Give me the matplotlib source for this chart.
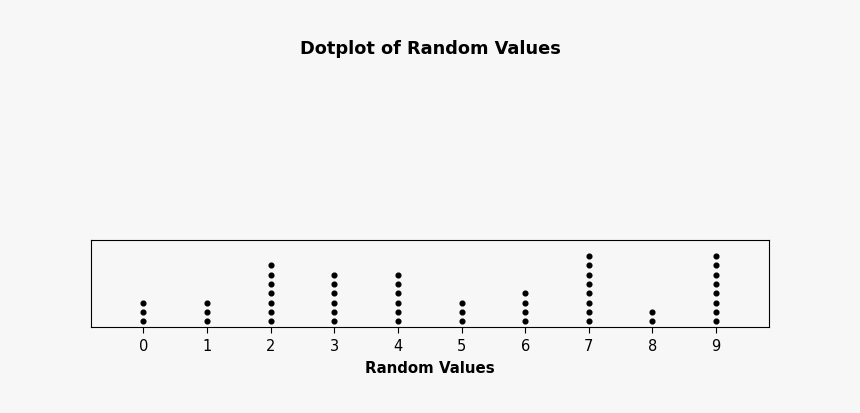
import matplotlib.pyplot as plt

valeurs = [0, 1, 2, 3, 4, 5, 6, 7, 8, 9]
effectifs = [3, 3, 7, 6, 6, 3, 4, 8, 2, 8]

fond = "#f7f7f7"

fig = plt.figure(figsize=(8.6, 4.14), dpi=100, facecolor=fond)
ax = fig.add_axes([91 / 860, 86 / 414, 678 / 860, 87 / 414])
ax.set_facecolor(fond)

# une pile de points par valeur
for v, n in zip(valeurs, effectifs):
    ax.plot([v] * n, list(range(n)), "o", color="black", markersize=3.4, linestyle="none")

ax.set_xlim(-0.82, 9.83)
ax.set_ylim(-0.6, 8.72)
ax.set_xticks(valeurs)
ax.set_xticklabels([str(v) for v in valeurs], fontsize=10.5)
ax.set_yticks([])
ax.tick_params(axis="x", direction="out", length=4, width=0.8, pad=4)
for s in ax.spines.values():
    s.set_linewidth(0.8)

ax.set_xlabel("Random Values", fontsize=10.8, fontweight="bold", labelpad=5)
fig.text(0.5, 1 - 49 / 414, "Dotplot of Random Values", ha="center", va="center",
         fontsize=12.8, fontweight="bold")

fig.savefig("out.png", dpi=100, facecolor=fond)
